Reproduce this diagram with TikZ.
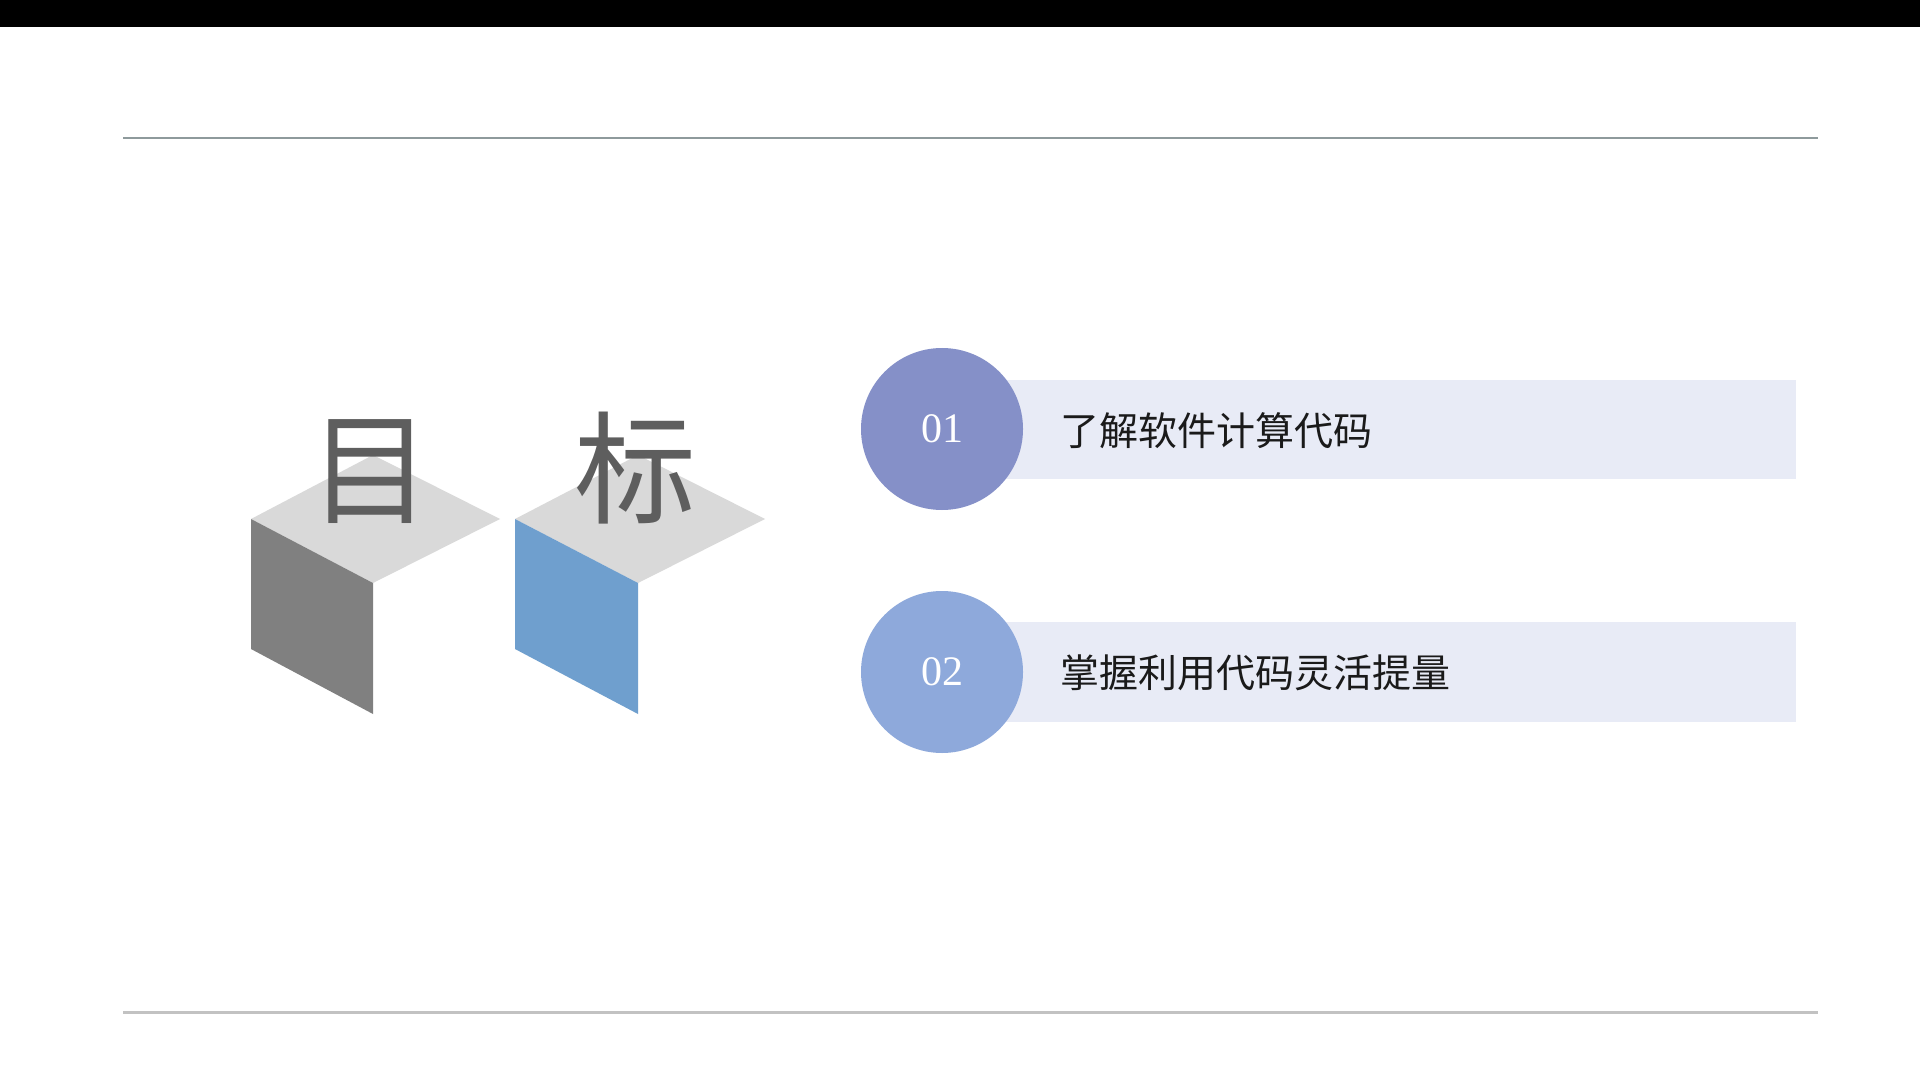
\documentclass[tikz,border=0pt]{standalone}
\usepackage{fontspec}
\newfontfamily\cjk{Noto Sans CJK SC}
\newfontfamily\numfont{Liberation Serif}
\definecolor{topbar}{HTML}{000000}
\definecolor{topline}{HTML}{8E9A9C}
\definecolor{botline}{HTML}{C2C2C2}
\definecolor{cubetop}{HTML}{D9D9D9}
\definecolor{cubegray}{HTML}{808080}
\definecolor{cubeblue}{HTML}{6F9FCE}
\definecolor{charcol}{HTML}{5E5E5E}
\definecolor{circone}{HTML}{8590C8}
\definecolor{circtwo}{HTML}{8EA9DB}
\definecolor{barfill}{HTML}{E8EBF6}
\definecolor{itemtext}{HTML}{1A1A1A}
\tikzset{
  bigchar/.style={font=\cjk\fontsize{61pt}{61pt}\selectfont, text=charcol, inner sep=0pt},
  numcirc/.style={circle, minimum size=81pt, inner sep=0pt, text=white,
    font=\numfont\fontsize{21pt}{21pt}\selectfont},
  itembar/.style={fill=barfill, draw=none},
  itemlabel/.style={anchor=west, inner sep=0pt, text=itemtext,
    font=\cjk\fontsize{19.5pt}{19.5pt}\selectfont},
}
\begin{document}
\begin{tikzpicture}[x=0.5pt, y=-0.5pt]
\useasboundingbox (0,0) rectangle (1920,1080);
\fill[white] (0,0) rectangle (1920,1080);
% top black band
\fill[topbar] (0,0) rectangle (1920,27);
% rules
\coordinate (tl1) at (123,138);
\coordinate (tl2) at (1818,138);
\draw[topline, line width=0.7pt] (tl1) -- (tl2);
\coordinate (bl1) at (123,1012);
\coordinate (bl2) at (1818,1012);
\draw[botline, line width=1.5pt] (bl1) -- (bl2);
% gray cube
\fill[cubetop] (251,519) -- (373,455) -- (500,519) -- (373,583) -- cycle;
\fill[cubegray] (251,519) -- (373,583) -- (373,714) -- (251,649) -- cycle;
% blue cube
\fill[cubetop] (515,519) -- (638,455) -- (765,519) -- (638,583) -- cycle;
\fill[cubeblue] (515,519) -- (638,583) -- (638,714) -- (515,649) -- cycle;
% big characters
\node[bigchar] (mu) at (370,472) {目};
\node[bigchar] (biao) at (635,468) {标};
% item bars
\fill[itembar] (1004,380) rectangle (1796,479);
\fill[itembar] (1004,622) rectangle (1796,722);
% circles
\node[numcirc, fill=circone] (c1) at (942,429) {01};
\node[numcirc, fill=circtwo] (c2) at (942,672) {02};
% item texts
\node[itemlabel] (t1) at (1060,431) {了解软件计算代码};
\node[itemlabel] (t2) at (1060,673) {掌握利用代码灵活提量};
\end{tikzpicture}
\end{document}
